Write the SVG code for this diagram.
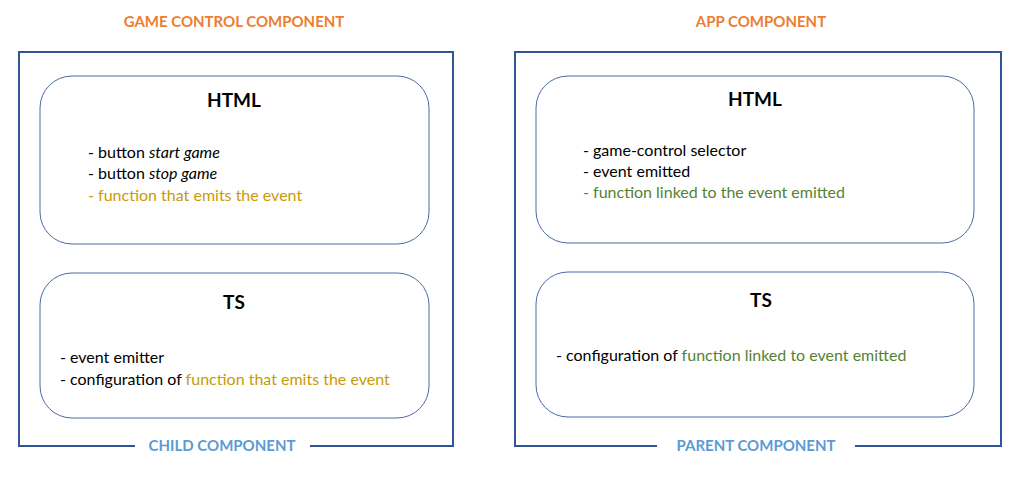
<svg xmlns="http://www.w3.org/2000/svg" width="1024" height="479" viewBox="0 0 1024 479">
<style>
.outer{fill:none;stroke:#2F5597;stroke-width:2}
.inner{fill:#fff;stroke:#4A6AA5;stroke-width:1}
text{font-family:Lato,"Open Sans",sans-serif;fill:#000}
.title{font-size:15px;font-weight:bold;fill:#ED7D31;text-anchor:middle}
.sub{font-size:15px;font-weight:bold;fill:#5B9BD5;text-anchor:middle}
.head{font-size:19px;font-weight:bold;text-anchor:middle}
.t{font-size:16px}
.gold{fill:#C99A06}
.green{fill:#548235}
</style>
<rect width="1024" height="479" fill="#fff"/>
<g id="game-control">
<text class="title" x="234" y="27">GAME CONTROL COMPONENT</text>
<path class="outer" d="M135,446 H19 V52 H453 V446 H310"/>
<text class="sub" x="222" y="451">CHILD COMPONENT</text>
</g>
<g id="gc-html">
<rect class="inner" x="40" y="76" width="389" height="168" rx="32"/>
<text class="head" x="234" y="107">HTML</text>
<text class="t" x="88" y="158">- button <tspan font-style="italic">start game</tspan></text>
<text class="t" x="88" y="179">- button <tspan font-style="italic">stop game</tspan></text>
<text class="t gold" x="88" y="201">- function that emits the event</text>
</g>
<g id="gc-ts">
<rect class="inner" x="40" y="273" width="389" height="145" rx="32"/>
<text class="head" x="234" y="309">TS</text>
<text class="t" x="60" y="363">- event emitter</text>
<text class="t" x="60" y="385">- configuration of <tspan class="gold">function that emits the event</tspan></text>
</g>
<g id="app">
<text class="title" x="761" y="27">APP COMPONENT</text>
<path class="outer" d="M657,446 H515 V52 H1001 V446 H855"/>
<text class="sub" x="756" y="451">PARENT COMPONENT</text>
</g>
<g id="app-html">
<rect class="inner" x="536" y="76" width="438" height="167" rx="32"/>
<text class="head" x="755" y="106">HTML</text>
<text class="t" x="583" y="156">- game-control selector</text>
<text class="t" x="583" y="177">- event emitted</text>
<text class="t green" x="583" y="198">- function linked to the event emitted</text>
</g>
<g id="app-ts">
<rect class="inner" x="536" y="272" width="438" height="145" rx="32"/>
<text class="head" x="761" y="307">TS</text>
<text class="t" x="556" y="361">- configuration of <tspan class="green">function linked to event emitted</tspan></text>
</g>
<g id="connectors"></g>
</svg>
